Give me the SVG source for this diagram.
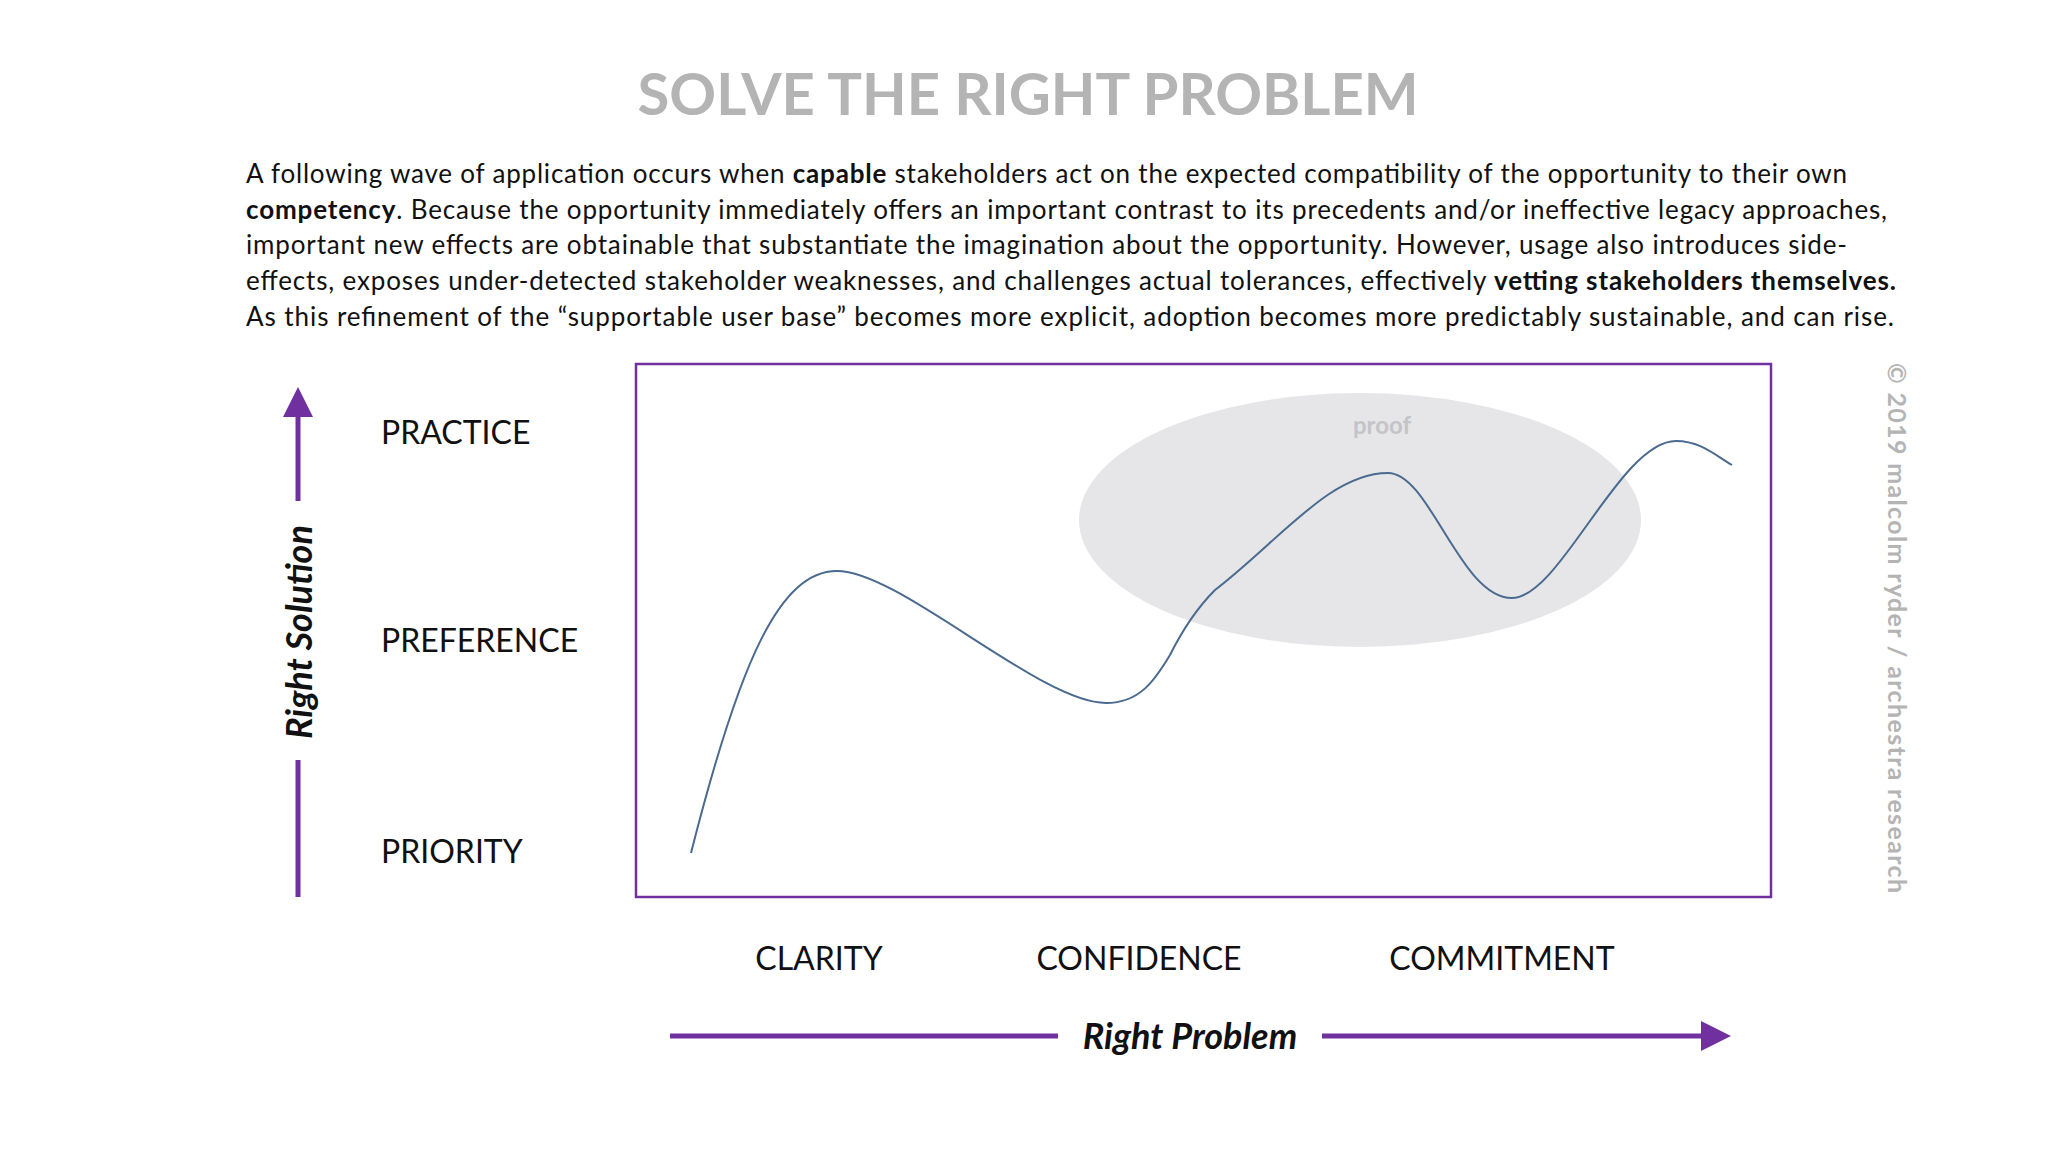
<svg xmlns="http://www.w3.org/2000/svg" width="2048" height="1152" viewBox="0 0 2048 1152">
<style>
text{font-family:Lato,"Open Sans",sans-serif}
.p{font-size:26px;fill:#111}
.b{font-weight:bold}
.lab{font-size:32px;fill:#111}
.ax{stroke:#7030a0;stroke-width:5;fill:none}
</style>
<defs>
<marker id="ah" markerWidth="6" markerHeight="6" refX="3" refY="3" orient="auto" markerUnits="strokeWidth"><path d="M0,0L6,3L0,6z" fill="#7030a0"/></marker>
</defs>
<rect width="2048" height="1152" fill="#fff"/>
<text x="1028" y="115" text-anchor="middle" font-size="58" font-weight="bold" fill="#b4b4b4">SOLVE THE RIGHT PROBLEM</text>
<g class="p">
<text x="246" y="183" textLength="1601" lengthAdjust="spacing">A following wave of application occurs when <tspan class="b">capable</tspan> stakeholders act on the expected compatibility of the opportunity to their own</text>
<text x="246" y="219" textLength="1641" lengthAdjust="spacing"><tspan class="b">competency</tspan>. Because the opportunity immediately offers an important contrast to its precedents and/or ineffective legacy approaches,</text>
<text x="246" y="254" textLength="1601" lengthAdjust="spacing">important new effects are obtainable that substantiate the imagination about the opportunity. However, usage also introduces side-</text>
<text x="246" y="290" textLength="1650" lengthAdjust="spacing">effects, exposes under-detected stakeholder weaknesses, and challenges actual tolerances, effectively <tspan class="b">vetting stakeholders themselves.</tspan></text>
<text x="246" y="326" textLength="1648" lengthAdjust="spacing">As this refinement of the “supportable user base” becomes more explicit, adoption becomes more predictably sustainable, and can rise.</text>
</g>
<g id="ellipse"><ellipse cx="1360" cy="520" rx="281" ry="127" fill="#e6e6e8"/><text x="1382" y="434" text-anchor="middle" font-size="24" font-weight="bold" fill="#c4c4c8">proof</text></g>
<g id="box"><rect x="636" y="364" width="1135" height="533" fill="none" stroke="#7030a0" stroke-width="2.5"/></g>
<g id="curve"><path d="M691,853 C740,660 780,571 837,571 C900,571 1040,703 1106,703 C1140,703 1155,680 1170,655 C1185,625 1200,605 1215,590 C1280,540 1330,473 1388,473 C1430,473 1460,598 1512,598 C1560,598 1620,441 1676,441 C1700,441 1715,455 1732,465" fill="none" stroke="#4a6a90" stroke-width="2"/></g>
<g id="ylabels" class="lab">
<text x="381" y="444">PRACTICE</text>
<text x="381" y="652">PREFERENCE</text>
<text x="381" y="863">PRIORITY</text>
</g>
<g id="xlabels" class="lab" text-anchor="middle">
<text x="819" y="970">CLARITY</text>
<text x="1139" y="970">CONFIDENCE</text>
<text x="1502" y="970">COMMITMENT</text>
</g>
<g id="connectors">
<line class="ax" x1="298" y1="897" x2="298" y2="760"/>
<line class="ax" x1="298" y1="501" x2="298" y2="402" marker-end="url(#ah)"/>
<line class="ax" x1="670" y1="1036" x2="1058" y2="1036"/>
<line class="ax" x1="1322" y1="1036" x2="1716" y2="1036" marker-end="url(#ah)"/>
</g>
<text transform="translate(312,632) rotate(-90)" text-anchor="middle" font-size="36" font-weight="bold" font-style="italic" fill="#111">Right Solution</text>
<text x="1190" y="1049" text-anchor="middle" font-size="36" font-weight="bold" font-style="italic" fill="#111">Right Problem</text>
<text transform="translate(1888,628) rotate(90)" text-anchor="middle" font-size="25" font-weight="bold" fill="#b4b4b4" textLength="530" lengthAdjust="spacing">© 2019 malcolm ryder / archestra research</text>
</svg>
